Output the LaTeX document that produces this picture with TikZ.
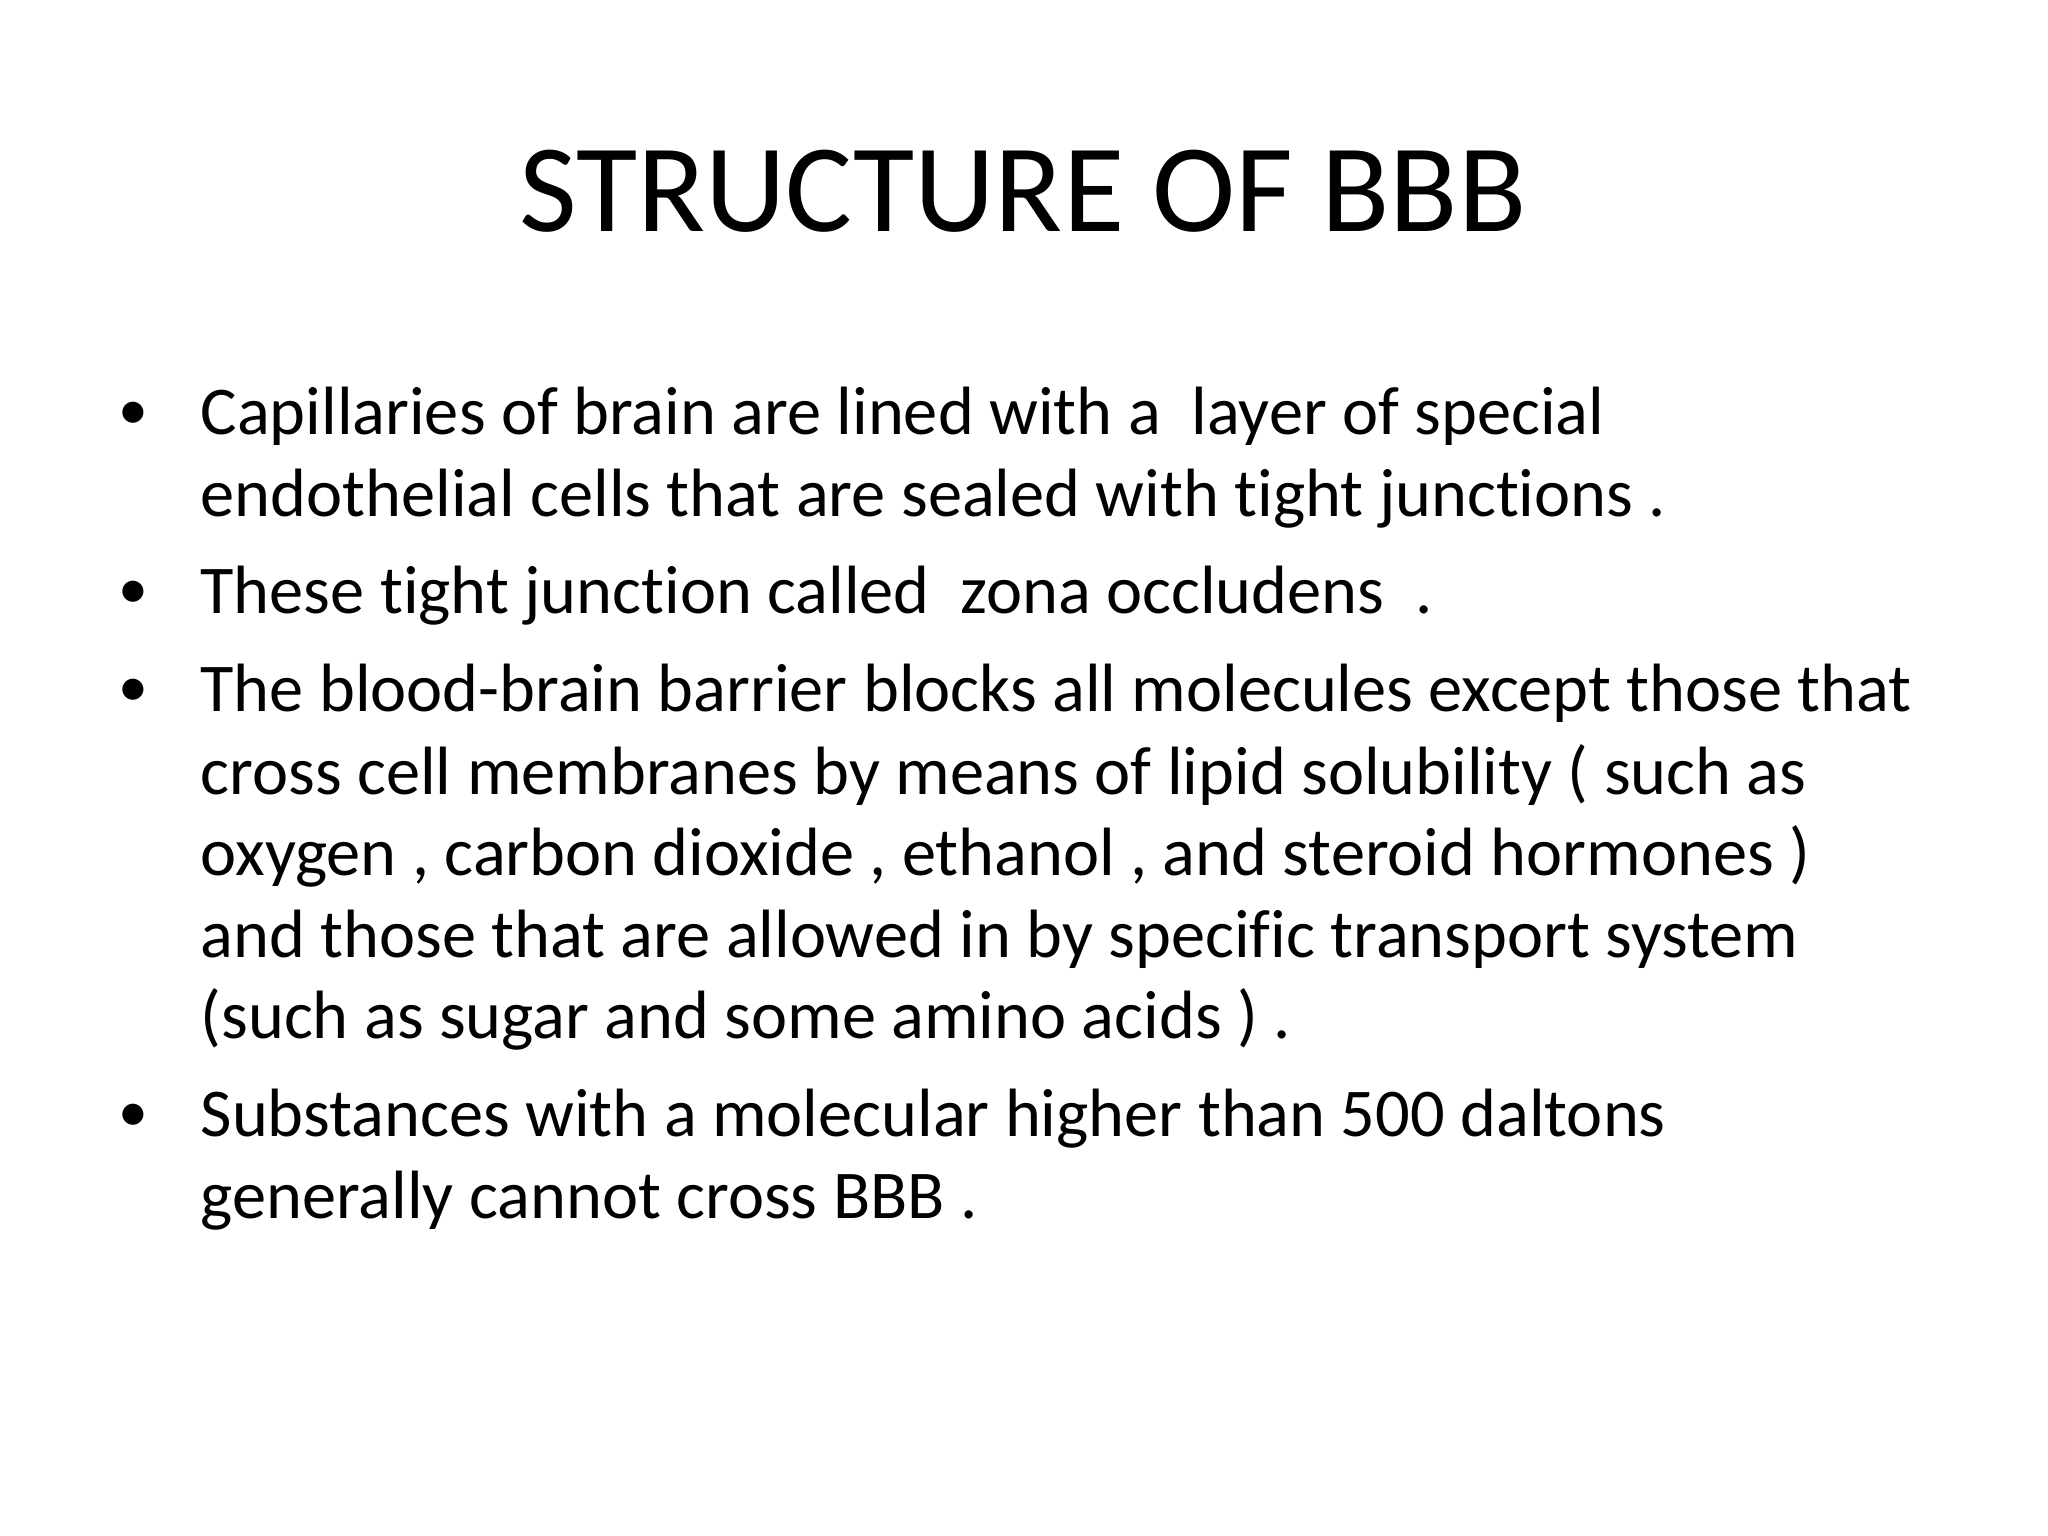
\documentclass[tikz,border=0pt]{standalone}
\usepackage{fontspec}
\setmainfont[RawFeature={-liga;-clig;-dlig}]{Carlito}
\begin{document}
\begin{tikzpicture}[x=1cm,y=-1cm,
  ln/.style={anchor=base west,inner sep=0pt,font=\fontsize{19.45}{24}\selectfont},
  bul/.style={anchor=base,inner sep=0pt,font=\fontsize{17}{20}\selectfont}]
\useasboundingbox[fill=white] (0,0) rectangle (20.48,15.36);
\node[anchor=base,inner sep=0pt,font=\fontsize{35.7}{40}\selectfont] (title) at (10.23,2.32) {STRUCTURE OF BBB};
\node[bul] (b1) at (1.33,4.30) {•};
\node[ln] (l1) at (2.0,4.35) {Capillaries of brain are lined with a\ \ layer of special};
\node[ln] (l2) at (2.0,5.16) {endothelial cells that are sealed with tight junctions .};
\node[bul] (b2) at (1.33,6.09) {•};
\node[ln] (l3) at (2.0,6.14) {These tight junction called\ \ zona occludens\ \ .};
\node[bul] (b3) at (1.33,7.07) {•};
\node[ln] (l4) at (2.0,7.12) {The blood-brain barrier blocks all molecules except those that};
\node[ln] (l5) at (2.0,7.94) {cross cell membranes by means of lipid solubility ( such as};
\node[ln] (l6) at (2.0,8.75) {oxygen , carbon dioxide , ethanol , and steroid hormones )};
\node[ln] (l7) at (2.0,9.57) {and those that are allowed in by specific transport system};
\node[ln] (l8) at (2.0,10.38) {(such as sugar and some amino acids ) .};
\node[bul] (b4) at (1.33,11.31) {•};
\node[ln] (l9) at (2.0,11.36) {Substances with a molecular higher than 500 daltons};
\node[ln] (l10) at (2.0,12.18) {generally cannot cross BBB .};
\end{tikzpicture}
\end{document}
